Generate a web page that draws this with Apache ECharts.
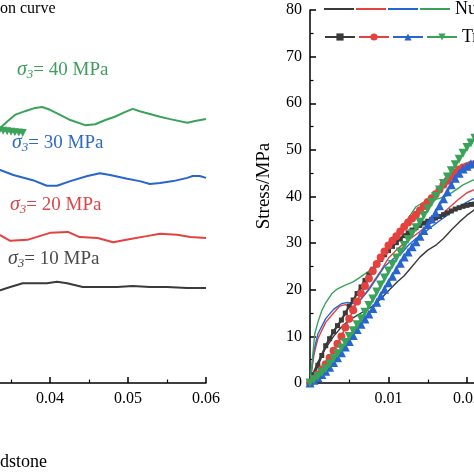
<!DOCTYPE html>
<html>
<head>
<meta charset="utf-8">
<script src="https://cdn.jsdelivr.net/npm/echarts@6/dist/echarts.min.js"></script>
<style>html,body{margin:0;padding:0;background:#fff;}#c{width:474px;height:474px;}</style>
</head>
<body>
<div id="c"></div>
<script>
// ---------- colours ----------
const C_BLACK = '#3a3a3a', C_RED = '#e5413f', C_BLUE = '#2765cf', C_GREEN = '#3aa35a';

// ---------- left panel (numerical curves, strain vs stress) ----------
const leftGreenStrain = [0.031,0.0336,0.0346,0.0355,0.0368,0.0381,0.039,0.040,0.0413,0.0426,0.0445,0.0458,0.0471,0.0483,0.0496,0.0506,0.0515,0.0528,0.0541,0.0554,0.0576,0.0586,0.060];
const leftGreenStress = [52.0,54.7,56.2,57.5,58.3,59.0,59.2,58.6,57.5,56.4,55.3,55.5,56.4,57.1,58.1,58.8,58.3,57.7,57.1,56.6,55.8,56.2,56.6];
const leftBlueStrain = [0.031,0.0336,0.0353,0.0378,0.0396,0.0409,0.0426,0.0448,0.0464,0.0477,0.0499,0.0515,0.0528,0.0541,0.0558,0.0576,0.0583,0.0592,0.060];
const leftBlueStress = [46.4,45.7,44.6,43.5,42.3,42.3,43.3,44.4,45.0,44.6,43.8,43.3,42.7,42.9,43.3,44.0,44.4,44.4,44.0];
const leftRedStrain = [0.031,0.0336,0.0349,0.0371,0.040,0.0423,0.0438,0.0461,0.0481,0.0503,0.0524,0.0541,0.0563,0.0580,0.060];
const leftRedStress = [31.0,31.7,30.5,30.7,32.2,32.4,31.3,31.1,30.2,30.9,31.5,32.0,31.8,31.3,31.1];
const leftBlackStrain = [0.031,0.0336,0.0349,0.0365,0.0378,0.0396,0.0409,0.0422,0.0442,0.0464,0.0486,0.0506,0.0528,0.0550,0.0576,0.060];
const leftBlackStress = [19.2,19.9,20.6,21.4,21.4,21.4,21.7,21.4,20.6,20.6,20.6,20.8,20.6,20.6,20.4,20.4];
const leftGreenTestStrain = [0.030,0.0305,0.031,0.0315,0.032,0.0325,0.033,0.0335,0.034,0.0345,0.035,0.0355,0.036,0.0365];
const leftGreenTestStress = [53.6,53.8,53.9,54.0,54.1,54.2,54.2,54.2,54.1,54.0,53.9,53.8,53.7,53.6];

// ---------- right panel: numerical simulation ----------
const numBlackStrain = [0,0.0005,0.001,0.002,0.003,0.004,0.005,0.006,0.007,0.008,0.009,0.010,0.011,0.012,0.013,0.014,0.015,0.016,0.017,0.018,0.019,0.020,0.021,0.0215];
const numBlackStress = [0,2.5,4.5,7.5,10,12,13.5,14.5,15.5,16.5,18,19.8,21.5,23,25,27,28.5,29.5,31,32.8,34.5,36,37.2,37.8];
const numRedStrain = [0,0.0005,0.001,0.002,0.003,0.0038,0.0045,0.0052,0.006,0.007,0.008,0.009,0.010,0.011,0.012,0.013,0.014,0.015,0.016,0.017,0.018,0.019,0.020,0.021,0.0215];
const numRedStress = [0,6,9.5,13,15,16.5,16.8,16.2,17,19,21.5,24,26.8,28.5,30,31.2,32.5,33.8,35,36.5,38,39.5,40.8,41.5,41.8];
const numBlueStrain = [0,0.0005,0.001,0.002,0.003,0.004,0.0048,0.0055,0.0065,0.0075,0.0085,0.0095,0.0105,0.0115,0.0125,0.0135,0.0145,0.0155,0.0165,0.0175,0.0185,0.0195,0.0205,0.0215];
const numBlueStress = [0,7,10.5,13.8,15.8,17,17.3,17,18,20,22.5,25,26.5,27.5,29.5,31,32.2,33.5,34.8,36,37.2,38.3,39.3,40];
const numGreenStrain = [0,0.0003,0.0006,0.001,0.0015,0.002,0.0028,0.0035,0.0045,0.0055,0.0065,0.0075,0.0085,0.0095,0.0105,0.0115,0.0125,0.0135,0.0145,0.0155,0.0165,0.0175,0.0185,0.0195,0.0205,0.0215];
const numGreenStress = [0,5,10.5,13,15.5,17.2,19.2,20.2,21,21.7,22.8,24,25.5,27.5,30,32.8,35.3,37.8,38.8,39.2,39.6,40.2,41.3,42.5,43.3,44];

// ---------- right panel: triaxial test ----------
const testStrain = [0,0.0005,0.001,0.0015,0.002,0.0025,0.003,0.0035,0.004,0.0045,0.005,0.0055,0.006,0.0065,0.007,0.0075,0.008,0.0085,0.009,0.0095,0.010,0.0105,0.011,0.0115,0.012,0.0125,0.013,0.0135,0.014,0.0145,0.015,0.0155,0.016,0.0165,0.017,0.0175,0.018,0.0185,0.019,0.0195,0.020,0.0205,0.021,0.0215];
const testBlackStress = [0,1.8,3.8,5.9,8.0,9.5,11.0,12.3,13.5,15.0,16.5,17.8,19.2,20.6,22.0,23.2,24.4,25.5,26.5,27.5,28.4,29.3,30.1,30.9,31.6,32.2,32.8,33.3,33.8,34.3,34.7,35.1,35.4,35.7,36.1,36.5,36.9,37.3,37.6,37.9,38.1,38.3,38.4,38.5];
const testRedStress = [0,0.9,1.8,2.9,4.0,5.4,6.9,8.4,10.0,11.9,13.8,15.6,17.5,19.2,20.8,22.4,24.0,25.5,26.9,28.2,29.5,30.5,31.5,32.5,33.5,34.4,35.3,36.1,37.0,37.9,38.8,39.6,40.5,41.5,42.5,43.4,44.3,45.1,45.8,46.2,46.5,46.8,47.0,47.2];
const testBlueStress = [0,0.6,1.2,1.8,2.5,3.4,4.4,5.4,6.5,7.7,8.9,10.2,11.5,12.6,13.7,14.8,16.0,17.3,18.7,20.1,21.5,22.9,24.3,25.7,27.0,28.1,29.2,30.3,31.5,32.7,34.0,35.2,36.5,38.0,39.5,41.0,42.5,43.9,45.0,45.9,46.5,47.0,47.4,47.8];
const testGreenStress = [0,0.7,1.4,2.2,3.0,4.1,5.2,6.3,7.5,8.7,10.0,11.2,12.5,13.8,15.2,16.6,18.0,19.5,21.0,22.5,24.0,25.4,26.8,28.1,29.5,30.8,32.0,33.3,34.5,35.9,37.3,38.7,40.0,41.4,42.8,44.2,45.5,46.8,48.0,49.3,50.5,51.5,52.5,53.5];

// ---------- axis ticks / texts ----------
const leftXTicks = {min: 0.03, max: 0.06, interval: 0.01};
const rightXTicks = {min: 0, max: 0.03, interval: 0.01};
const stressTicks = {min: 0, max: 80, interval: 10};
const sigmaLabels = ['40', '30', '20', '10'];

const zip = (xs, ys) => xs.map((x, i) => [x, ys[i]]);
const SERIF = '"Liberation Serif", "Times New Roman", serif';

const chart = echarts.init(document.getElementById('c'), null, {renderer: 'canvas'});

const axisCommon = {
  axisLine: {show: true, lineStyle: {color: '#000', width: 1.5}},
  axisTick: {show: true, inside: true, length: 6, lineStyle: {color: '#000', width: 1.5}},
  minorTick: {show: true, splitNumber: 2, length: 3.5, lineStyle: {color: '#000', width: 1.2}},
  splitLine: {show: false},
  axisLabel: {color: '#000', fontFamily: SERIF, fontSize: 16, margin: 8}
};

function numSeries(name, xi, yi, data, color, width) {
  return {name, type: 'line', xAxisIndex: xi, yAxisIndex: yi, data, symbol: 'none',
    lineStyle: {color, width}, itemStyle: {color}, animation: false, z: 2};
}
function testSeries(name, xi, yi, data, color, symbol, size, rotate, lw) {
  return {name, type: 'line', xAxisIndex: xi, yAxisIndex: yi, data, symbol, symbolSize: size,
    symbolRotate: rotate || 0, showSymbol: true, showAllSymbol: true,
    lineStyle: {color, width: lw || 1.5}, itemStyle: {color}, animation: false, z: 3};
}

function sigmaText(val, color, x, y) {
  return {
    type: 'text', left: x, top: y,
    style: {
      text: '{s|σ}{sub|3}{n|= ' + val + ' MPa}',
      fill: color,
      rich: {
        s: {fontFamily: SERIF, fontSize: 20, fontStyle: 'italic', fill: color, verticalAlign: 'middle'},
        sub: {fontFamily: SERIF, fontSize: 13, fontStyle: 'italic', fill: color, verticalAlign: 'bottom', padding: [10, 0, 0, 0]},
        n: {fontFamily: SERIF, fontSize: 19, fill: color, verticalAlign: 'middle'}
      }
    }
  };
}

const numNames = ['Numerical σ3=10', 'Numerical σ3=20', 'Numerical σ3=30', 'Numerical σ3=40'];
const testNames = ['Test σ3=10', 'Test σ3=20', 'Test σ3=30', 'Test σ3=40'];

const option = {
  backgroundColor: '#fff',
  animation: false,
  grid: [
    {left: -28, right: 268, top: 10, bottom: 91, containLabel: false, outerBoundsMode: 'none'},
    {left: 310, right: -71.5, top: 10, bottom: 91, containLabel: false, outerBoundsMode: 'none'}
  ],
  xAxis: [
    Object.assign({}, axisCommon, {type: 'value', gridIndex: 0, min: leftXTicks.min, max: leftXTicks.max, interval: leftXTicks.interval,
      axisLabel: Object.assign({}, axisCommon.axisLabel, {formatter: v => v.toFixed(2)})}),
    Object.assign({}, axisCommon, {type: 'value', gridIndex: 1, min: rightXTicks.min, max: rightXTicks.max, interval: rightXTicks.interval,
      axisLabel: Object.assign({}, axisCommon.axisLabel, {showMinLabel: false, formatter: v => v.toFixed(2)})})
  ],
  yAxis: [
    {type: 'value', gridIndex: 0, min: stressTicks.min, max: stressTicks.max, show: false},
    Object.assign({}, axisCommon, {type: 'value', gridIndex: 1, min: stressTicks.min, max: stressTicks.max, interval: stressTicks.interval})
  ],
  legend: [
    {left: 324, top: 0, padding: 0, width: 600, itemWidth: 30, itemHeight: 2, itemGap: 2, selectedMode: false,
      data: numNames.map(n => ({name: n, icon: 'rect'})),
      formatter: n => n === numNames[3] ? 'Numerical simulation' : '',
      textStyle: {fontFamily: SERIF, fontSize: 18, color: '#000'}},
    {left: 324, top: 28, padding: 0, width: 600, itemWidth: 30, itemHeight: 9, itemGap: 2, selectedMode: false,
      data: testNames,
      formatter: n => n === testNames[3] ? 'Triaxial test' : '',
      textStyle: {fontFamily: SERIF, fontSize: 18, color: '#000'}}
  ],
  series: [
    numSeries('L black', 0, 0, zip(leftBlackStrain, leftBlackStress), C_BLACK, 2),
    numSeries('L red', 0, 0, zip(leftRedStrain, leftRedStress), C_RED, 2),
    numSeries('L blue', 0, 0, zip(leftBlueStrain, leftBlueStress), C_BLUE, 2),
    numSeries('L green', 0, 0, zip(leftGreenStrain, leftGreenStress), C_GREEN, 2),
    testSeries('L test green', 0, 0, zip(leftGreenTestStrain, leftGreenTestStress), C_GREEN, 'triangle', 8, 180),

    numSeries(numNames[0], 1, 1, zip(numBlackStrain, numBlackStress), C_BLACK, 1.4),
    numSeries(numNames[1], 1, 1, zip(numRedStrain, numRedStress), C_RED, 1.4),
    numSeries(numNames[2], 1, 1, zip(numBlueStrain, numBlueStress), C_BLUE, 1.4),
    numSeries(numNames[3], 1, 1, zip(numGreenStrain, numGreenStress), C_GREEN, 1.4),
    testSeries(testNames[0], 1, 1, zip(testStrain, testBlackStress), C_BLACK, 'rect', 5, 0, 2.2),
    testSeries(testNames[1], 1, 1, zip(testStrain, testRedStress), C_RED, 'circle', 8),
    testSeries(testNames[2], 1, 1, zip(testStrain, testBlueStress), C_BLUE, 'triangle', 9),
    testSeries(testNames[3], 1, 1, zip(testStrain, testGreenStress), C_GREEN, 'triangle', 9, 180)
  ],
  graphic: [
    {type: 'text', left: 0, top: 1, style: {text: 'on curve', fontFamily: SERIF, fontSize: 16, fill: '#000'}},
    {type: 'text', left: 0, top: 453, style: {text: 'dstone', fontFamily: SERIF, fontSize: 18, fill: '#000'}},
    {type: 'text', x: 264, y: 186, rotation: Math.PI / 2,
      style: {text: 'Stress/MPa', fontFamily: SERIF, fontSize: 19, fill: '#000', align: 'center', verticalAlign: 'middle'}},
    sigmaText(sigmaLabels[0], '#3d9e5c', 17, 60),
    sigmaText(sigmaLabels[1], '#2f6bc4', 12, 133),
    sigmaText(sigmaLabels[2], '#d9474a', 10, 195),
    sigmaText(sigmaLabels[3], '#4a4a4a', 8, 249)
  ]
};
chart.setOption(option);
</script>
</body>
</html>
